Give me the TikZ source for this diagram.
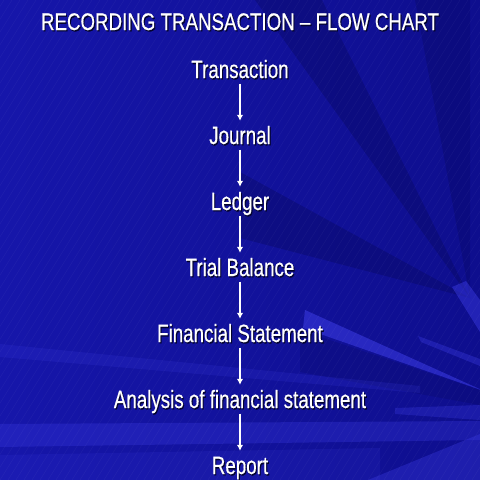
\documentclass[tikz,border=0pt]{standalone}
\usepackage{fontspec}
\setmainfont{Liberation Sans}[FakeBold=0.6]
\usetikzlibrary{arrows.meta}
\definecolor{bgleft}{RGB}{22,22,170}
\definecolor{bgright}{RGB}{14,14,142}
\definecolor{darkc}{RGB}{6,6,80}
\definecolor{lightc}{RGB}{60,60,230}
\definecolor{shadowc}{RGB}{4,4,45}
\newcommand\shtxt[2][0.75]{\scalebox{#1}[1]{\rlap{\kern1.4pt\raisebox{-1.4pt}{\textcolor{shadowc}{#2}}}#2}}
\tikzset{
 lbl/.style={font=\fontsize{25}{29}\selectfont, text=white, inner sep=0pt, text height=18pt, text depth=5.5pt, anchor=base},
 ttl/.style={lbl, font=\fontsize{24}{28}\selectfont},
 flow/.style={draw=white, line width=2.2pt, -{Latex[length=6pt,width=6.5pt]}, shorten >=5pt},
 hatch/.style={white, opacity=0.045, line width=0.5pt},
 dk/.style={fill=darkc, fill opacity=#1},
 lt/.style={fill=lightc, fill opacity=#1},
}
\begin{document}
\begin{tikzpicture}[x=1pt,y=-1pt]
\useasboundingbox (0,0) rectangle (480,480);
\shade[left color=bgleft, right color=bgright] (0,0) rectangle (480,480);
\begin{scope}
\clip (0,0) rectangle (480,480);
% upper right fan
\coordinate (P) at (470,298);
\fill[dk=.3] (P) -- (255,0) -- (322,0) -- cycle;
\fill[dk=.25] (P) -- (415,0) -- (470,0) -- cycle;
\fill[dk=.3] (P) -- (240,172) -- (240,238) -- cycle;
\fill[dk=.2] (300,330) -- (480,390) -- (480,405) -- (300,372) -- cycle;
% lower rays
\fill[lt=.55] (305,310) -- (303,328) -- (484,391) -- cycle;
\fill[lt=.35] (418,336) -- (421,342) -- (480,366) -- (480,359) -- cycle;
\fill[lt=.45] (452,287) -- (466,281) -- (480,300) -- (480,332) -- cycle;
\fill[lt=.3] (395,408) -- (480,405) -- (480,420) -- (395,414) -- cycle;
\fill[lt=.3] (0,424) -- (480,421) -- (480,440) -- (0,447) -- cycle;
\fill[lt=.35] (368,480) -- (480,434) -- (480,480) -- cycle;
\fill[lt=.18] (0,344) -- (420,386) -- (420,393) -- (0,357) -- cycle;
\fill[lt=.15] (0,455) -- (380,448) -- (380,480) -- (0,480) -- cycle;
% fine texture
\foreach \i in {-50,...,70} \draw[hatch] (\i*8,480) -- (\i*8+300,0);
\end{scope}
% title
\node[ttl] (title) at (240,30) {\shtxt[0.78]{RECORDING TRANSACTION – FLOW CHART}};
% flow
\node[lbl] (n1) at (240,78)  {\shtxt{Transaction}};
\node[lbl] (n2) at (240,144) {\shtxt{Journal}};
\node[lbl] (n3) at (240,210) {\shtxt{Ledger}};
\node[lbl] (n4) at (240,276) {\shtxt{Trial Balance}};
\node[lbl] (n5) at (240,342) {\shtxt{Financial Statement}};
\node[lbl] (n6) at (240,408) {\shtxt{Analysis of financial statement}};
\node[lbl] (n7) at (240,474) {\shtxt{Report}};
\draw[flow] (n1.south) -- (n2.north);
\draw[flow] (n2.south) -- (n3.north);
\draw[flow] (n3.south) -- (n4.north);
\draw[flow] (n4.south) -- (n5.north);
\draw[flow] (n5.south) -- (n6.north);
\draw[flow] (n6.south) -- (n7.north);
\end{tikzpicture}
\end{document}
